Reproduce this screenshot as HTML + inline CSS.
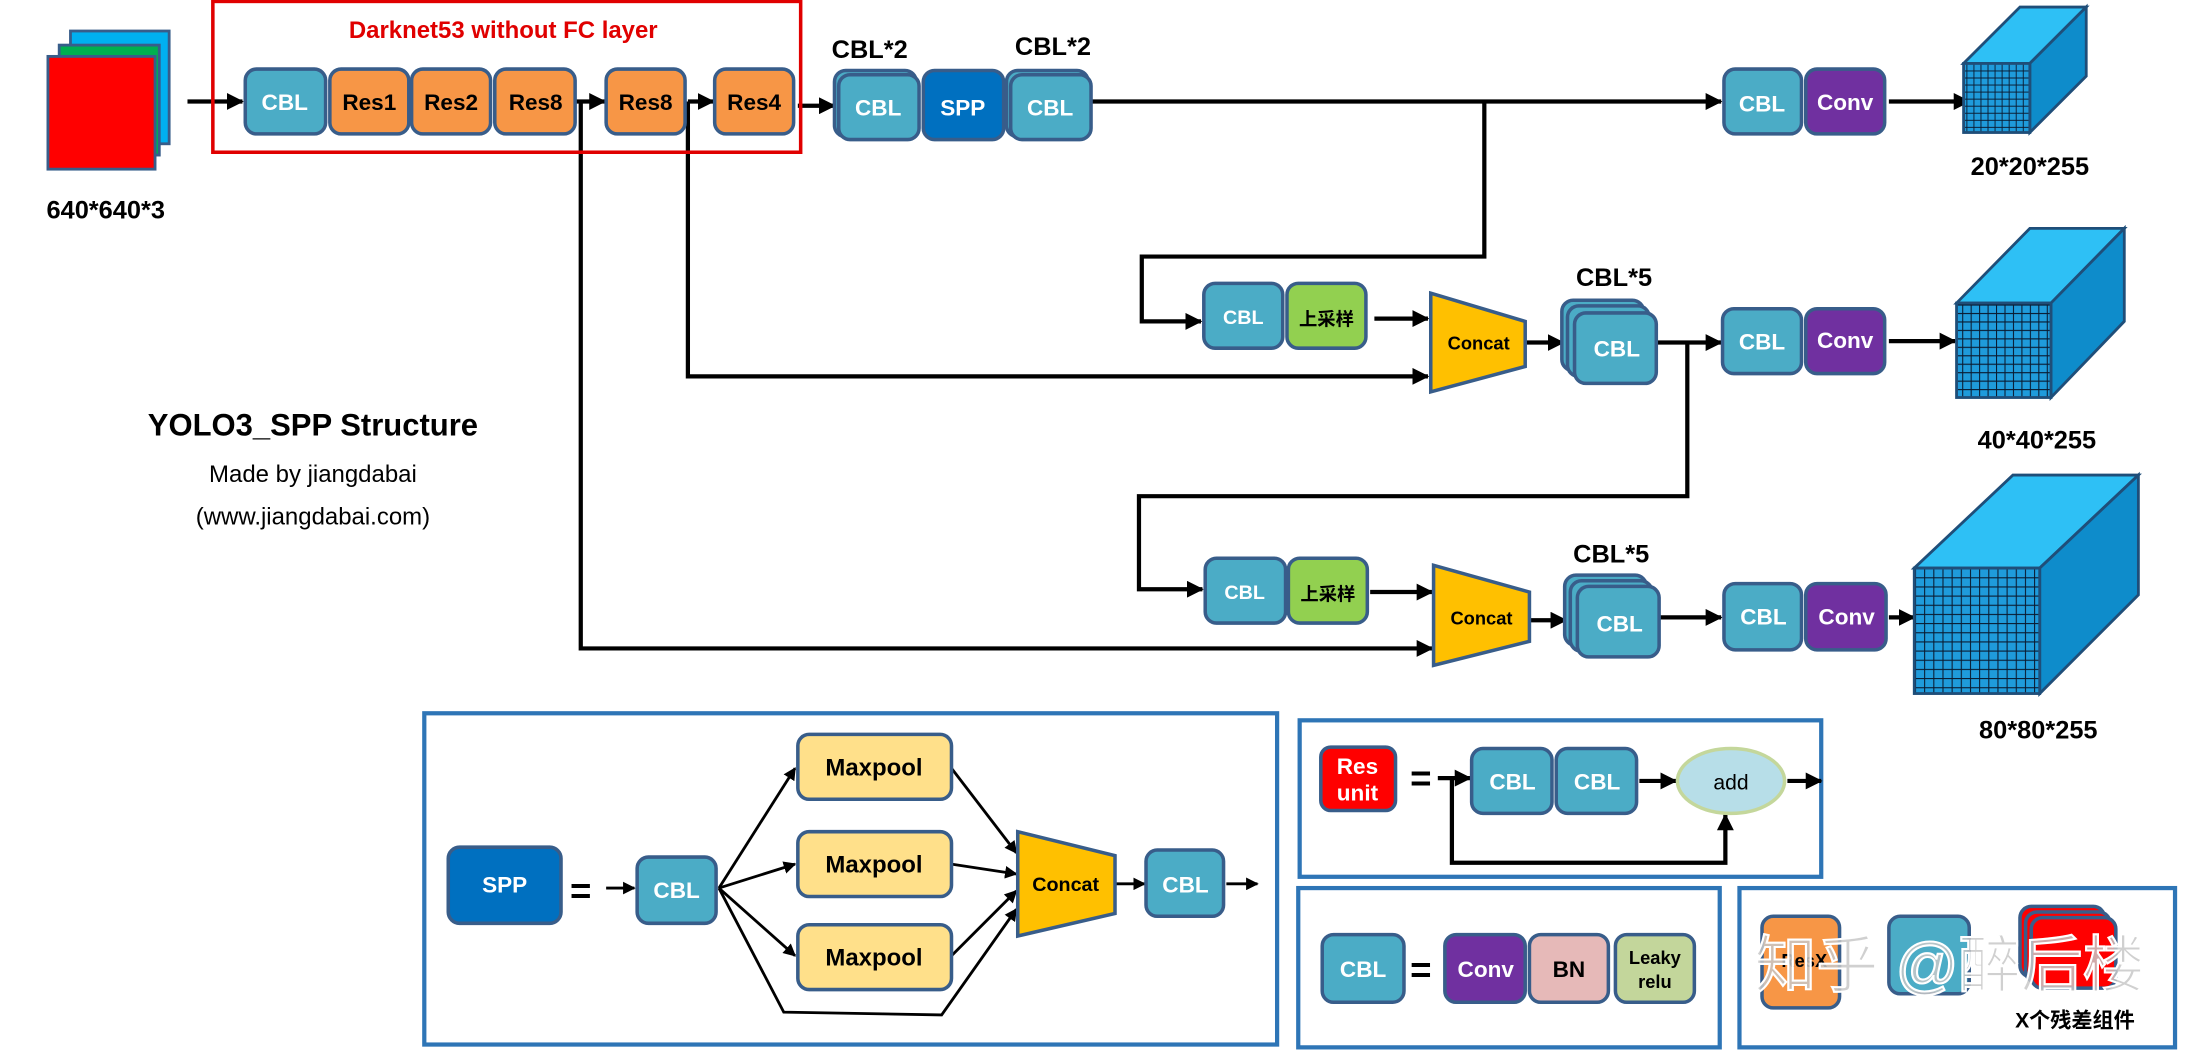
<!DOCTYPE html>
<html><head><meta charset="utf-8"><style>
html,body{margin:0;padding:0;background:#fff;}
svg{display:block;}
text{font-family:"Liberation Sans","Noto Sans CJK SC",sans-serif;font-weight:bold;}
</style></head><body>
<svg width="2199" height="1053" viewBox="0 0 1560 747" preserveAspectRatio="none" xmlns="http://www.w3.org/2000/svg">
<defs>
<marker id="b" markerWidth="12" markerHeight="12" refX="11" refY="6" orient="auto" markerUnits="userSpaceOnUse"><path d="M0,0 L12,6 L0,12 z" fill="#000"/></marker>
<marker id="s" markerWidth="9" markerHeight="9" refX="8" refY="4.5" orient="auto" markerUnits="userSpaceOnUse"><path d="M0,0 L9,4.5 L0,9 z" fill="#000"/></marker>
<pattern id="g1" width="5" height="5" patternUnits="userSpaceOnUse"><rect width="5" height="5" fill="#1F9BDB"/><path d="M0,0H5M0,0V5" stroke="#0a1a30" stroke-width="1.3"/></pattern>
<pattern id="g2" width="6" height="6" patternUnits="userSpaceOnUse"><rect width="6" height="6" fill="#1F9BDB"/><path d="M0,0H6M0,0V6" stroke="#0a1a30" stroke-width="1.5"/></pattern>
<pattern id="g3" width="6.5" height="6.5" patternUnits="userSpaceOnUse"><rect width="6.5" height="6.5" fill="#1F9BDB"/><path d="M0,0H6.5M0,0V6.5" stroke="#0a1a30" stroke-width="1.5"/></pattern>
</defs>
<g fill="none" stroke="#000" stroke-width="3">
<path d="M133,72H172" marker-end="url(#b)"/>
<path d="M408,72H429" marker-end="url(#b)"/>
<path d="M488,72H506" marker-end="url(#b)"/>
<path d="M566,75H592" marker-end="url(#b)"/>
<path d="M774,72H1221" marker-end="url(#b)"/>
<path d="M1340,72H1397" marker-end="url(#b)"/>
<path d="M1053,72V182H810V228H852" marker-end="url(#b)"/>
<path d="M975,226H1013" marker-end="url(#b)"/>
<path d="M488,72V267H1013" marker-end="url(#b)"/>
<path d="M1083,243H1109" marker-end="url(#b)"/>
<path d="M1175,243H1221" marker-end="url(#b)"/>
<path d="M1340,242H1387" marker-end="url(#b)"/>
<path d="M1197,243V352H808V418H853" marker-end="url(#b)"/>
<path d="M972,420H1016" marker-end="url(#b)"/>
<path d="M412,72V460H1016" marker-end="url(#b)"/>
<path d="M1086,440H1111" marker-end="url(#b)"/>
<path d="M1178,438H1221" marker-end="url(#b)"/>
<path d="M1340,438H1358" marker-end="url(#b)"/>
</g>
<rect x="50" y="22" width="70" height="80" fill="#00B0F0" stroke="#385D8A" stroke-width="2"/>
<rect x="42" y="32" width="71" height="78" fill="#00B050" stroke="#385D8A" stroke-width="2"/>
<rect x="34" y="40" width="76" height="80" fill="#FF0000" stroke="#385D8A" stroke-width="2"/>
<text x="75" y="155" font-size="18" text-anchor="middle">640*640*3</text>
<rect x="151" y="1" width="417" height="107" fill="none" stroke="#E00000" stroke-width="2.5"/>
<text x="357" y="27" font-size="17" fill="#E00000" text-anchor="middle">Darknet53 without FC layer</text>
<g stroke="#385D8A" stroke-width="2.5">
<rect x="174" y="49" width="57" height="46" rx="8" fill="#4BACC6"/>
<rect x="234" y="49" width="56" height="46" rx="8" fill="#F79646"/>
<rect x="292" y="49" width="56" height="46" rx="8" fill="#F79646"/>
<rect x="351" y="49" width="57" height="46" rx="8" fill="#F79646"/>
<rect x="430" y="49" width="56" height="46" rx="8" fill="#F79646"/>
<rect x="507" y="49" width="56" height="46" rx="8" fill="#F79646"/>
<rect x="592" y="50" width="58" height="47" rx="8" fill="#4BACC6"/>
<rect x="595" y="53" width="57" height="46" rx="8" fill="#4BACC6"/>
<rect x="655" y="50" width="57" height="49" rx="8" fill="#0070C0"/>
<rect x="714" y="50" width="58" height="47" rx="8" fill="#4BACC6"/>
<rect x="717" y="53" width="57" height="46" rx="8" fill="#4BACC6"/>
<rect x="1223" y="49" width="55" height="46" rx="8" fill="#4BACC6"/>
<rect x="1281" y="49" width="56" height="46" rx="8" fill="#7030A0"/>
<rect x="854" y="201" width="56" height="46" rx="8" fill="#4BACC6"/>
<rect x="913" y="201" width="56" height="46" rx="8" fill="#92D050"/>
<path d="M1015,208L1082,228V260L1015,278Z" fill="#FFC000"/>
<rect x="1108" y="213" width="58" height="50" rx="8" fill="#4BACC6"/>
<rect x="1112" y="217" width="58" height="50" rx="8" fill="#4BACC6"/>
<rect x="1117" y="222" width="58" height="50" rx="8" fill="#4BACC6"/>
<rect x="1222" y="219" width="56" height="46" rx="8" fill="#4BACC6"/>
<rect x="1281" y="219" width="56" height="46" rx="8" fill="#7030A0"/>
<rect x="855" y="396" width="57" height="46" rx="8" fill="#4BACC6"/>
<rect x="914" y="396" width="56" height="46" rx="8" fill="#92D050"/>
<path d="M1017,401L1085,420V455L1017,472Z" fill="#FFC000"/>
<rect x="1110" y="408" width="58" height="50" rx="8" fill="#4BACC6"/>
<rect x="1114" y="412" width="58" height="50" rx="8" fill="#4BACC6"/>
<rect x="1119" y="416" width="58" height="50" rx="8" fill="#4BACC6"/>
<rect x="1223" y="414" width="55" height="47" rx="8" fill="#4BACC6"/>
<rect x="1281" y="414" width="57" height="47" rx="8" fill="#7030A0"/>
</g>
<g font-size="16" text-anchor="middle" fill="#fff">
<text x="202" y="78">CBL</text>
<text x="262" y="78" fill="#000">Res1</text>
<text x="320" y="78" fill="#000">Res2</text>
<text x="380" y="78" fill="#000">Res8</text>
<text x="458" y="78" fill="#000">Res8</text>
<text x="535" y="78" fill="#000">Res4</text>
<text x="623" y="82">CBL</text>
<text x="683" y="82">SPP</text>
<text x="745" y="82">CBL</text>
<text x="1250" y="79">CBL</text>
<text x="1309" y="78">Conv</text>
<text x="882" y="230" font-size="14">CBL</text>
<text x="941" y="231" font-size="13" fill="#000">上采样</text>
<text x="1049" y="248" font-size="13" fill="#000">Concat</text>
<text x="1147" y="253">CBL</text>
<text x="1250" y="248">CBL</text>
<text x="1309" y="247">Conv</text>
<text x="883" y="425" font-size="14">CBL</text>
<text x="942" y="426" font-size="13" fill="#000">上采样</text>
<text x="1051" y="443" font-size="13" fill="#000">Concat</text>
<text x="1149" y="448">CBL</text>
<text x="1251" y="443">CBL</text>
<text x="1310" y="443">Conv</text>
</g>
<g font-size="18" text-anchor="middle">
<text x="617" y="41">CBL*2</text>
<text x="747" y="39">CBL*2</text>
<text x="1145" y="203">CBL*5</text>
<text x="1143" y="399">CBL*5</text>
<text x="1440" y="124">20*20*255</text>
<text x="1445" y="318">40*40*255</text>
<text x="1446" y="524">80*80*255</text>
</g>
<g stroke="#1F4E79" stroke-width="2">
<path d="M1393,45L1433,5H1480L1440,45Z" fill="#2EC0F5"/>
<path d="M1440,45L1480,5V54L1440,94Z" fill="#0E8CCB"/>
<rect x="1393" y="45" width="47" height="49" fill="url(#g1)"/>
<path d="M1388,215L1440,162H1507L1455,215Z" fill="#2EC0F5"/>
<path d="M1455,215L1507,162V228L1455,282Z" fill="#0E8CCB"/>
<rect x="1388" y="215" width="67" height="67" fill="url(#g2)"/>
<path d="M1358,403L1428,337H1517L1447,403Z" fill="#2EC0F5"/>
<path d="M1447,403L1517,337V422L1447,492Z" fill="#0E8CCB"/>
<rect x="1358" y="403" width="89" height="89" fill="url(#g3)"/>
</g>
<text x="222" y="309" font-size="22" text-anchor="middle">YOLO3_SPP Structure</text>
<text x="222" y="342" font-size="17" text-anchor="middle" style="font-weight:normal">Made by jiangdabai</text>
<text x="222" y="372" font-size="17" text-anchor="middle" style="font-weight:normal">(www.jiangdabai.com)</text>
<g fill="none" stroke="#2E75B6" stroke-width="3">
<rect x="301" y="506" width="605" height="235"/>
<rect x="922" y="511" width="370" height="111"/>
<rect x="921" y="630" width="299" height="113"/>
<rect x="1234" y="630" width="309" height="113"/>
</g>
<g fill="none" stroke="#000" stroke-width="2">
<path d="M510,630L564,545" marker-end="url(#s)"/>
<path d="M510,630L564,613" marker-end="url(#s)"/>
<path d="M510,630L564,678" marker-end="url(#s)"/>
<path d="M510,630L556,718L668,720L721,645" marker-end="url(#s)"/>
<path d="M675,545L721,605" marker-end="url(#s)"/>
<path d="M675,613L721,620" marker-end="url(#s)"/>
<path d="M675,678L721,632" marker-end="url(#s)"/>
<path d="M430,630H450" marker-end="url(#s)"/>
<path d="M792,627H812" marker-end="url(#s)"/>
<path d="M870,627H892" marker-end="url(#s)"/>
<path d="M1020,552H1043" stroke-width="3" marker-end="url(#b)"/>
<path d="M1163,554H1189" stroke-width="3" marker-end="url(#b)"/>
<path d="M1268,554H1292" stroke-width="3" marker-end="url(#b)"/>
<path d="M1030,552V612H1224V578" stroke-width="3" marker-end="url(#b)"/>
</g>
<g stroke="#385D8A" stroke-width="2.5">
<rect x="318" y="601" width="80" height="54" rx="8" fill="#0070C0"/>
<rect x="452" y="608" width="56" height="47" rx="8" fill="#4BACC6"/>
<rect x="566" y="521" width="109" height="46" rx="8" fill="#FFE08A"/>
<rect x="566" y="590" width="109" height="46" rx="8" fill="#FFE08A"/>
<rect x="566" y="656" width="109" height="46" rx="8" fill="#FFE08A"/>
<path d="M722,590L791,607V648L722,664Z" fill="#FFC000"/>
<rect x="813" y="603" width="55" height="47" rx="8" fill="#4BACC6"/>
<rect x="937" y="530" width="53" height="45" rx="7" fill="#FF0000"/>
<rect x="1044" y="531" width="57" height="46" rx="8" fill="#4BACC6"/>
<rect x="1104" y="531" width="57" height="46" rx="8" fill="#4BACC6"/>
<ellipse cx="1228" cy="554" rx="38" ry="23" fill="#B7DEE8" stroke="#C4D79B"/>
<rect x="938" y="663" width="58" height="48" rx="8" fill="#4BACC6"/>
<rect x="1025" y="663" width="57" height="48" rx="8" fill="#7030A0"/>
<rect x="1085" y="663" width="56" height="48" rx="8" fill="#E6B9B8"/>
<rect x="1146" y="663" width="56" height="48" rx="8" fill="#C3D69B"/>
<rect x="1250" y="650" width="55" height="65" rx="8" fill="#F79646"/>
<rect x="1340" y="650" width="57" height="55" rx="8" fill="#4BACC6"/>
<rect x="1433" y="643" width="60" height="50" rx="8" fill="#FF0000"/>
<rect x="1437" y="647" width="60" height="50" rx="8" fill="#FF0000"/>
<rect x="1441" y="651" width="60" height="50" rx="8" fill="#FF0000"/>
</g>
<g font-size="16" text-anchor="middle" fill="#fff">
<text x="358" y="633">SPP</text>
<text x="480" y="637">CBL</text>
<text x="620" y="550" fill="#000" font-size="17">Maxpool</text>
<text x="620" y="619" fill="#000" font-size="17">Maxpool</text>
<text x="620" y="685" fill="#000" font-size="17">Maxpool</text>
<text x="756" y="632" fill="#000" font-size="14">Concat</text>
<text x="841" y="633">CBL</text>
<text x="963" y="549">Res</text>
<text x="963" y="568">unit</text>
<text x="1073" y="560">CBL</text>
<text x="1133" y="560">CBL</text>
<text x="1228" y="560" font-size="15" fill="#000" style="font-weight:normal">add</text>
<text x="967" y="693">CBL</text>
<text x="1054" y="693">Conv</text>
<text x="1113" y="693" fill="#000">BN</text>
<text x="1174" y="684" font-size="13" fill="#000">Leaky</text>
<text x="1174" y="701" font-size="13" fill="#000">relu</text>
</g>
<g font-size="26" fill="#000" text-anchor="middle">
<text x="412" y="641">=</text>
<text x="1008" y="561">=</text>
<text x="1008" y="697">=</text>
</g>
<text x="1280" y="686" font-size="13" text-anchor="middle">ResX</text>
<text x="1472" y="729" font-size="15" text-anchor="middle">X个残差组件</text>
<text x="1383" y="700" font-size="44" text-anchor="middle" fill="#c8c8c8" fill-opacity="0.85" stroke="#fff" stroke-width="1.5" style="font-weight:normal">知乎 @醉后楼</text>
</svg>
</body></html>
